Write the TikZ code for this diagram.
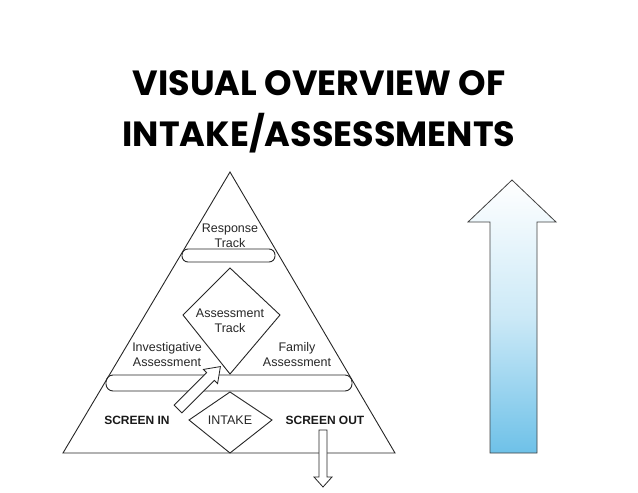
\documentclass[tikz,border=0pt]{standalone}
\usepackage{fontspec}
\setmainfont{Liberation Sans}
\newfontfamily\titlefont{Poppins}
\definecolor{sky}{RGB}{110,193,232}
\begin{document}
\begin{tikzpicture}[x=1pt,y=-1pt,
  ln/.style={draw=black!85,line width=0.9pt},
  lbl/.style={font=\fontsize{12.5}{15}\selectfont,align=center,text=black!85},
  blbl/.style={font=\bfseries\fontsize{12}{14}\selectfont,text=black!90}]
\useasboundingbox (0,0) rectangle (638,493);
\node[font=\titlefont\bfseries\fontsize{35}{38}\selectfont] (t1) at (319,83) {VISUAL OVERVIEW OF};
\node[font=\titlefont\bfseries\fontsize{35}{38}\selectfont] (t2) at (319,133) {INTAKE/ASSESSMENTS};
\draw[ln] (230,172) coordinate (apex) -- (395,453) -- (63,453) -- cycle;
\draw[ln,rounded corners=6pt] (182,249) rectangle (275,262);
\draw[ln,rounded corners=7pt] (106,375) rectangle (352,391);
\draw[ln,fill=white] (230,268) -- (280,315) -- (230,374) -- (183,315) -- cycle;
\draw[ln,fill=white] (230,392) -- (272,420) -- (230,453) -- (189,420) -- cycle;
\node[lbl] (resp) at (230,236) {Response\\Track};
\node[lbl] (ass) at (230,321) {Assessment\\Track};
\node[lbl] (inv) at (167,355) {Investigative\\Assessment};
\node[lbl] (fam) at (297,355) {Family\\Assessment};
\node[lbl] (intake) at (230,420) {INTAKE};
\node[blbl] (sin) at (137,420) {SCREEN IN};
\node[blbl] (sout) at (325,420) {SCREEN OUT};
% diagonal arrow
\begin{scope}[shift={(178,409)},rotate=45]
\draw[ln,fill=white,line width=0.8pt] (0,-5.5) -- (46,-5.5) -- (46,-10) -- (60,0) -- (46,10) -- (46,5.5) -- (0,5.5) -- cycle;
\end{scope}
% down arrow
\draw[ln,fill=white,line width=0.8pt] (319,430) -- (327,430) -- (327,477) -- (332,477) -- (323,487) -- (314,477) -- (319,477) -- cycle;
% big arrow
\shade[top color=white,bottom color=sky,middle color=sky!35]
 (512,180) -- (556,222) -- (537,222) -- (537,453) -- (490,453) -- (490,222) -- (468,222) -- cycle;
\draw[draw=black!75,line width=0.8pt] (512,180) -- (556,222) -- (537,222) -- (537,453) -- (490,453) -- (490,222) -- (468,222) -- cycle;
\end{tikzpicture}
\end{document}
